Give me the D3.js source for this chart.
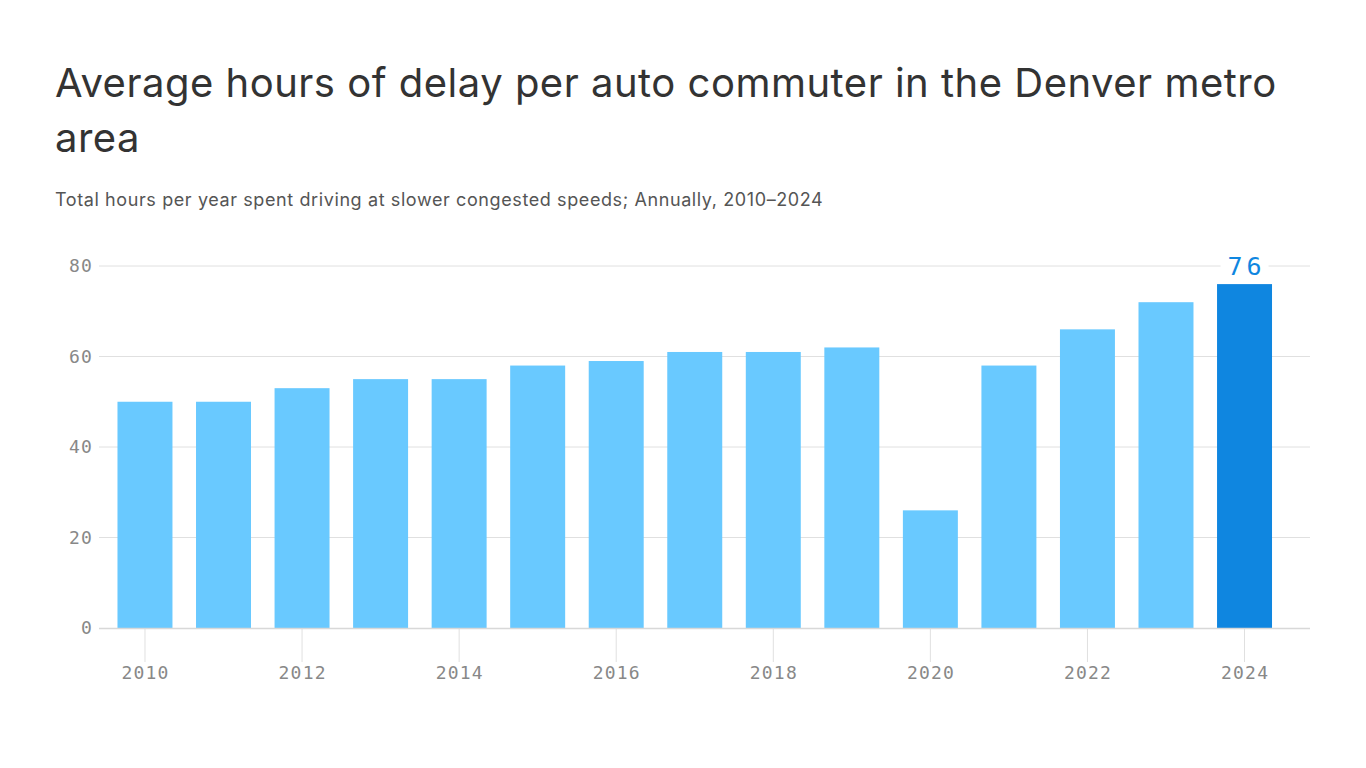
<!DOCTYPE html>
<html><head><meta charset="utf-8">
<script src="https://cdn.jsdelivr.net/npm/d3@7"></script>
<style>body{margin:0;background:#fff;}svg{display:block;}</style>
</head><body>
<svg id="c" width="1366" height="768"></svg>
<script>
const years = [2010,2011,2012,2013,2014,2015,2016,2017,2018,2019,2020,2021,2022,2023,2024];
const hours = [50,50,53,55,55,58,59,61,61,62,26,58,66,72,76];
const yTicks = [0,20,40,60,80];
const xTickYears = [2010,2012,2014,2016,2018,2020,2022,2024];
const titleLines = ["Average hours of delay per auto commuter in the Denver metro","area"];
const subtitle = "Total hours per year spent driving at slower congested speeds; Annually, 2010–2024";

const svg = d3.select("#c");
const mono = "'DejaVu Sans Mono', monospace";
const sans = "Inter, 'Noto Sans', sans-serif";

svg.append("text").attr("x",55).attr("y",97).attr("font-family",sans).attr("font-size",40)
  .attr("fill","#333").attr("letter-spacing",0.5)
  .selectAll("tspan").data(titleLines).join("tspan").attr("x",55).attr("dy",(d,i)=>i?55:0).text(d=>d);
svg.append("text").attr("x",55).attr("y",206).attr("font-family",sans).attr("font-size",18)
  .attr("fill","#555").attr("letter-spacing",0.6).text(subtitle);

const left=99, right=1310;
const y = d3.scaleLinear().domain([0,80]).range([628,266]);
const x = d3.scaleBand().domain(years).range([105.7,1283.8]).paddingInner(0.3).paddingOuter(0.15);

// gridlines
svg.append("g").selectAll("line").data(yTicks.filter(d=>d>0)).join("line")
  .attr("x1",left).attr("x2",right).attr("y1",d=>y(d)).attr("y2",d=>y(d))
  .attr("stroke","#e0e0e0").attr("stroke-width",1);
svg.append("g").selectAll("text").data(yTicks).join("text")
  .attr("x",93).attr("y",d=>y(d)+6).attr("text-anchor","end")
  .attr("font-family",mono).attr("font-size",18).attr("letter-spacing",1.2).attr("fill","#888").text(d=>d);

// x ticks
svg.append("g").selectAll("line").data(xTickYears).join("line")
  .attr("x1",d=>x(d)+x.bandwidth()/2).attr("x2",d=>x(d)+x.bandwidth()/2)
  .attr("y1",628).attr("y2",662).attr("stroke","#e0e0e0").attr("stroke-width",1);
svg.append("g").selectAll("text").data(xTickYears).join("text")
  .attr("x",d=>x(d)+x.bandwidth()/2+0.6).attr("y",679).attr("text-anchor","middle")
  .attr("font-family",mono).attr("font-size",18).attr("letter-spacing",1.2).attr("fill","#888").text(d=>d);

// bars
svg.append("g").selectAll("rect").data(years).join("rect")
  .attr("x",d=>x(d)).attr("width",x.bandwidth())
  .attr("y",(d,i)=>y(hours[i])).attr("height",(d,i)=>y(0)-y(hours[i]))
  .attr("fill",(d,i)=>i===years.length-1?"#0f86e0":"#69c9ff");

// baseline
svg.append("line").attr("x1",left).attr("x2",right).attr("y1",y(0)+0.5).attr("y2",y(0)+0.5)
  .attr("stroke","#d8d8d8").attr("stroke-width",1.5);

// label for last bar
const last = years.length-1;
const lx = x(years[last])+x.bandwidth()/2;
svg.append("rect").attr("x",lx-24).attr("y",252).attr("width",48).attr("height",26).attr("fill","#fff");
svg.append("text").attr("x",lx+2).attr("y",275).attr("text-anchor","middle")
  .attr("font-family",mono).attr("font-size",25).attr("letter-spacing",4).attr("fill","#0f86e0").text(hours[last]);
</script>
</body></html>
